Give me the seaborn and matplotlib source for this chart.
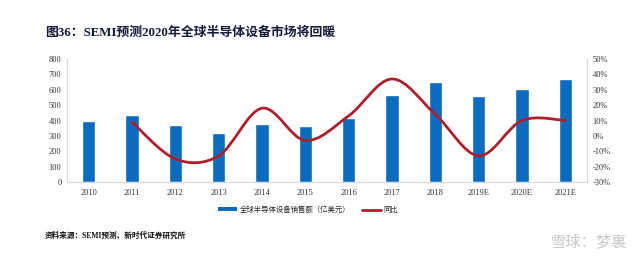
import numpy as np
import pandas as pd
import matplotlib
matplotlib.use("Agg")
import matplotlib.pyplot as plt
import seaborn as sns
from matplotlib.path import Path
from matplotlib.patches import PathPatch, Patch
from matplotlib.lines import Line2D

years = ["2010", "2011", "2012", "2013", "2014", "2015", "2016", "2017",
         "2018", "2019E", "2020E", "2021E"]
sales = [400, 436, 371, 318, 377, 366, 414, 569, 650, 560, 608, 670]
growth_years = years[1:]
growth = [9, -15, -13, 18, -3, 13, 37, 14, -13, 10, 10]

bar_color = "#0b6cbf"
line_color = "#b01e2a"
serif = ["Liberation Serif", "Noto Sans CJK SC"]

sns.set_theme(style="white")
plt.rcParams["font.family"] = serif

fig = plt.figure(figsize=(6.33, 2.64), dpi=100)
ax = fig.add_axes([67 / 633, 1 - 182 / 264, 520 / 633, 123 / 264])

df = pd.DataFrame({"year": years, "sales": sales})
sns.barplot(data=df, x="year", y="sales", color=bar_color, width=0.31,
            saturation=1, ax=ax)
ax.set_ylim(0, 800)
ax.set_yticks(np.arange(0, 801, 100))
ax.set_xlabel("")
ax.set_ylabel("")
ax.set_xlim(-0.5, len(years) - 0.5)

ax2 = ax.twinx()
ax2.set_ylim(-30, 50)
ax2.set_yticks(np.arange(-30, 51, 10))
ax2.set_yticklabels([f"{v}%" for v in range(-30, 51, 10)])

# smoothed line (Catmull-Rom style Bezier through the data points)
xs = [years.index(y) for y in growth_years]
pts = np.column_stack([xs, growth]).astype(float)
ext = np.vstack([pts[0], pts, pts[-1]])
verts = [tuple(pts[0])]
codes = [Path.MOVETO]
for i in range(1, len(ext) - 2):
    p0, p1, p2, p3 = ext[i - 1], ext[i], ext[i + 1], ext[i + 2]
    c1 = p1 + (p2 - p0) / 6
    c2 = p2 - (p3 - p1) / 6
    verts += [tuple(c1), tuple(c2), tuple(p2)]
    codes += [Path.CURVE4] * 3
ax2.add_patch(PathPatch(Path(verts, codes), facecolor="none",
                        edgecolor=line_color, lw=2.0, capstyle="round"))

for a in (ax, ax2):
    a.tick_params(axis="both", length=0, labelsize=6, colors="#333333", pad=4)
    for s in a.spines.values():
        s.set_visible(False)
ax.spines["left"].set_visible(True)
ax.spines["bottom"].set_visible(True)
ax2.spines["right"].set_visible(True)
for s in (ax.spines["left"], ax.spines["bottom"], ax2.spines["right"]):
    s.set_color("#d9d9d9")
    s.set_linewidth(0.8)
ax.tick_params(axis="x", pad=5)
ax.grid(False)
ax2.grid(False)

handles = [Patch(facecolor=bar_color, edgecolor="none"),
           Line2D([0], [0], color=line_color, lw=2)]
labels = ["全球半导体设备销售额（亿美元）", "同比"]
fig.legend(handles, labels, loc="center", bbox_to_anchor=(0.487, 0.207),
           ncol=2, frameon=False, prop={"family": serif, "size": 5.3},
           handlelength=2.6, handleheight=0.45, columnspacing=1.6,
           handletextpad=0.3)

fig.text(45 / 633, 1 - 33 / 264, "图36：SEMI预测2020年全球半导体设备市场将回暖",
         fontsize=9.3, fontweight="bold", color="#141a3c", va="center",
         family=serif)
fig.text(45 / 633, 1 - 236 / 264, "资料来源：SEMI预测、新时代证券研究所",
         fontsize=5.5, fontweight="bold", color="#111111", va="center",
         family=serif)
fig.text(0.99, 1 - 242 / 264, "雪球：梦裏", fontsize=11, color="#c8c8c8",
         ha="right", va="center", family=["Noto Sans CJK SC", "DejaVu Sans"])

fig.savefig("out.png", dpi=100)
